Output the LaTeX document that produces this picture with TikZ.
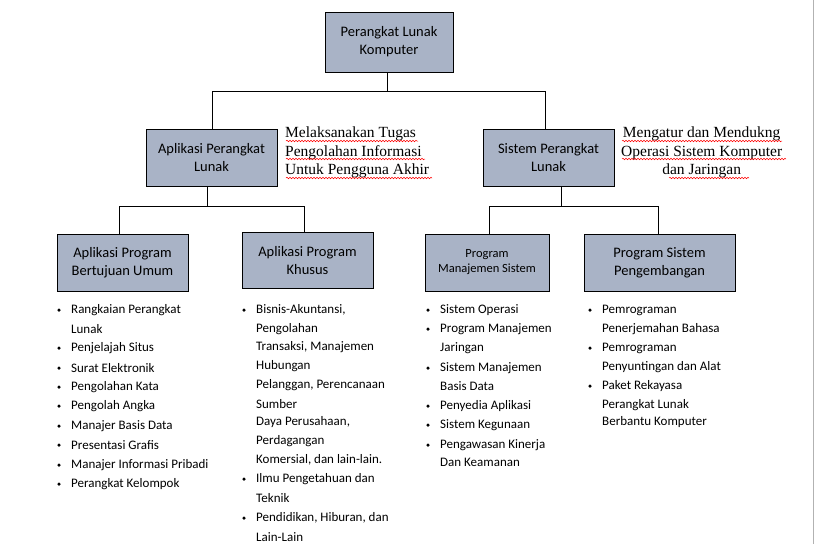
\documentclass[tikz,border=0pt]{standalone}
\usepackage{fontspec}
\setmainfont{Carlito}
\newfontfamily\serifann{Liberation Serif}
\usetikzlibrary{decorations.pathmorphing}
\begin{document}
\begin{tikzpicture}[x=1pt,y=-1pt,
  box/.style={draw=black,fill={rgb,255:red,169;green,179;blue,198},line width=1pt,inner sep=0pt,align=center,font=\fontsize{14.5}{18}\selectfont},
  conn/.style={line width=1pt},
  itm/.style={anchor=west,inner sep=0pt,font=\fontsize{13}{15}\selectfont},
  bul/.style={circle,fill=black,inner sep=0pt,minimum size=3.5pt},
  ann/.style={anchor=north west,inner sep=0pt,align=left,font=\serifann\fontsize{15.5}{18.5}\selectfont},
  wavy/.style={draw=red,line width=0.5pt,decorate,decoration={snake,amplitude=0.8pt,segment length=3pt}}]
\useasboundingbox[fill=white] (0,0) rectangle (815,544);
\draw[gray!60] (813,0) -- (813,544);
\node[box,minimum width=128pt,minimum height=60pt] (top) at (389,42) {Perangkat Lunak\\Komputer};
\node[box,minimum width=131pt,minimum height=57pt] (apl) at (211.5,157.5) {Aplikasi Perangkat\\Lunak};
\node[box,minimum width=131pt,minimum height=57pt] (sis) at (548.5,157.5) {Sistem Perangkat\\Lunak};
\node[box,minimum width=131pt,minimum height=57pt] (a1) at (122.5,262.5) {Aplikasi Program\\Bertujuan Umum};
\node[box,minimum width=131pt,minimum height=56pt] (a2) at (307.5,260.5) {Aplikasi Program\\Khusus};
\node[box,minimum width=124pt,minimum height=57pt,font=\fontsize{12.5}{15}\selectfont] (s1) at (487,262.5) {Program\\Manajemen Sistem};
\node[box,minimum width=151pt,minimum height=57pt] (s2) at (659.5,262.5) {Program Sistem\\Pengembangan};
\coordinate (j0) at (387,91);
\coordinate (j1) at (207,206);
\coordinate (j2) at (561,206);
\draw[conn] (top.south -| j0) -- (j0);
\draw[conn] (j0) -- (212,91) -- (212,129);
\draw[conn] (j0) -- (545,91) -- (545,129);
\draw[conn] (j1 |- apl.south) -- (j1);
\draw[conn] (j1) -- (119,206) -- (119,234);
\draw[conn] (j1) -- (304,206) -- (304,233);
\draw[conn] (j2 |- sis.south) -- (j2);
\draw[conn] (j2) -- (489,206) -- (489,234);
\draw[conn] (j2) -- (658,206) -- (658,234);
% annotations
\node[ann] (n1) at (285,127) {Melaksanakan Tugas\\Pengolahan Informasi\\Untuk Pengguna Akhir};
\node[ann,align=center] (n2) at (621,127) {Mengatur dan Mendukng\\Operasi Sistem Komputer\\dan Jaringan};
\foreach \a/\b/\y in {286/418/141,286/425/159,286/432/178,622/782/141,622/786/159,669/749/178}
  \path[wavy] (\a,\y) -- (\b,\y);
% column 1
\foreach \y/\t in {310/Rangkaian Perangkat,329/Lunak,348/Penjelajah Situs,368/Surat Elektronik,387/Pengolahan Kata,406/Pengolah Angka,426/Manajer Basis Data,445/Presentasi Grafis,465/Manajer Informasi Pribadi,484/Perangkat Kelompok}
  \node[itm] at (71,\y) {\t};
\foreach \y in {310,348,368,387,406,426,445,465,484} \node[bul] at (59,\y) {};
% column 2
\foreach \y/\t in {310/{Bisnis-Akuntansi,},329/Pengolahan,347/{Transaksi, Manajemen},366/Hubungan,385/{Pelanggan, Perencanaan},404/Sumber,422/{Daya Perusahaan,},441/Perdagangan,460/{Komersial, dan lain-lain.},479/Ilmu Pengetahuan dan,498/Teknik,518/{Pendidikan, Hiburan, dan},537/Lain-Lain}
  \node[itm] at (256,\y) {\t};
\foreach \y in {310,479,518} \node[bul] at (244,\y) {};
% column 3
\foreach \y/\t in {310/Sistem Operasi,329/Program Manajemen,348/Jaringan,368/Sistem Manajemen,386/Basis Data,406/Penyedia Aplikasi,425/Sistem Kegunaan,445/Pengawasan Kinerja,462/Dan Keamanan}
  \node[itm] at (440,\y) {\t};
\foreach \y in {310,329,368,406,425,445} \node[bul] at (428,\y) {};
% column 4
\foreach \y/\t in {310/Pemrograman,329/Penerjemahan Bahasa,348/Pemrograman,367/Penyuntingan dan Alat,386/Paket Rekayasa,405/Perangkat Lunak,422/Berbantu Komputer}
  \node[itm] at (602,\y) {\t};
\foreach \y in {310,348,386} \node[bul] at (590,\y) {};
\end{tikzpicture}
\end{document}
